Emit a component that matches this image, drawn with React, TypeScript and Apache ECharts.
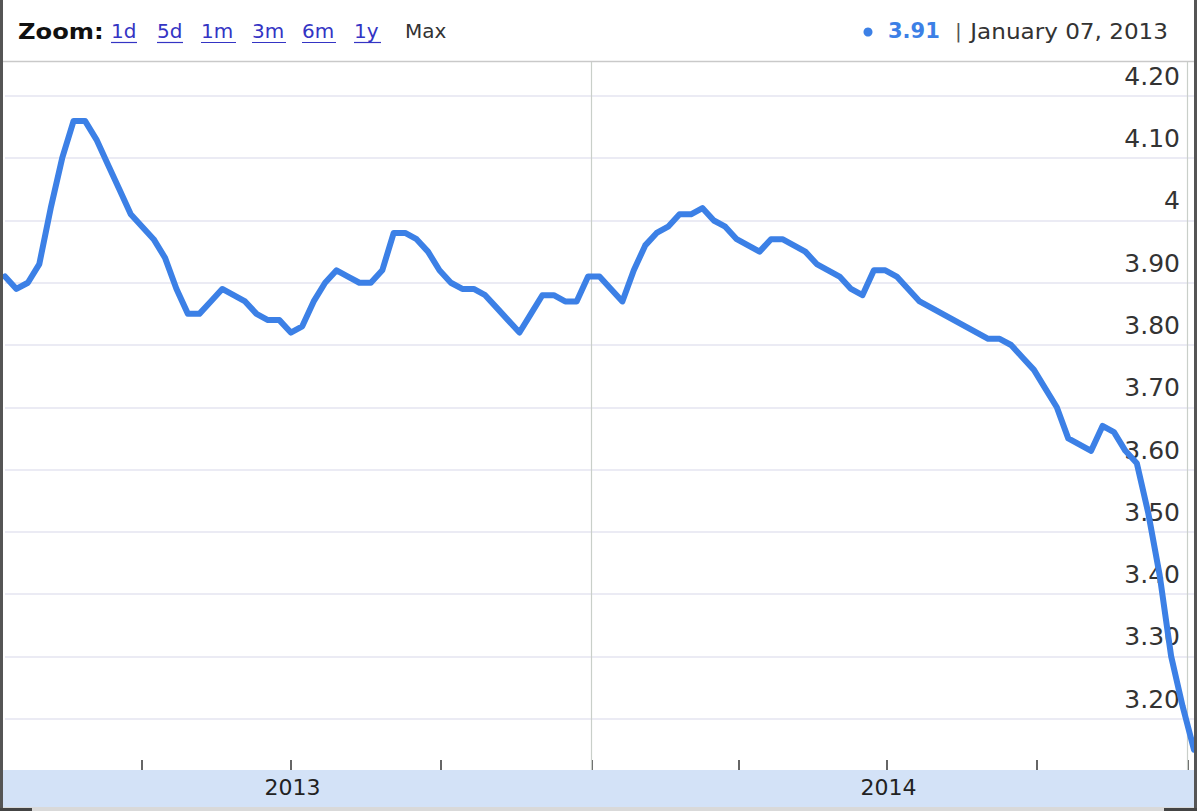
import React, { useEffect, useRef } from 'react';
import * as echarts from 'echarts';

// Weekly values, first week = Monday January 07, 2013
const startYear = 2013;
const startMonth = 0;
const startDay = 7;
const rates = [
  3.91, 3.89, 3.90, 3.93, 4.02, 4.10, 4.16, 4.16, 4.13, 4.09,
  4.05, 4.01, 3.99, 3.97, 3.94, 3.89, 3.85, 3.85, 3.87, 3.89,
  3.88, 3.87, 3.85, 3.84, 3.84, 3.82, 3.83, 3.87, 3.90, 3.92,
  3.91, 3.90, 3.90, 3.92, 3.98, 3.98, 3.97, 3.95, 3.92, 3.90,
  3.89, 3.89, 3.88, 3.86, 3.84, 3.82, 3.85, 3.88, 3.88, 3.87,
  3.87, 3.91, 3.91, 3.89, 3.87, 3.92, 3.96, 3.98, 3.99, 4.01,
  4.01, 4.02, 4.00, 3.99, 3.97, 3.96, 3.95, 3.97, 3.97, 3.96,
  3.95, 3.93, 3.92, 3.91, 3.89, 3.88, 3.92, 3.92, 3.91, 3.89,
  3.87, 3.86, 3.85, 3.84, 3.83, 3.82, 3.81, 3.81, 3.80, 3.78,
  3.76, 3.73, 3.70, 3.65, 3.64, 3.63, 3.67, 3.66, 3.63, 3.61,
  3.53, 3.43, 3.30, 3.22, 3.15,
];
const weekDates = rates.map((_, i) => new Date(startYear, startMonth, startDay + 7 * i).getTime());

const yTicks = [3.2, 3.3, 3.4, 3.5, 3.6, 3.7, 3.8, 3.9, 4.0, 4.1, 4.2];
const yTickLabels = ['3.20', '3.30', '3.40', '3.50', '3.60', '3.70', '3.80', '3.90', '4', '4.10', '4.20'];
const yMin = 3.1173;
const yMax = 4.2546;

const quarterTicks = [
  '2013-04-01', '2013-07-01', '2013-10-01', '2014-01-01',
  '2014-04-01', '2014-07-01', '2014-10-01', '2015-01-01',
];
const yearLines = ['2014-01-01', '2015-01-01'];
const yearLabelDates = ['2013-07-02', '2014-07-02'];

const zoomLinks = ['1d', '5d', '1m', '3m', '6m', '1y'];
const zoomLinkX = [111, 157, 201, 252, 302, 354];
const zoomLinkW = [26, 26, 35, 34, 34, 27];
const months = ['January', 'February', 'March', 'April', 'May', 'June', 'July', 'August', 'September', 'October', 'November', 'December'];

const ts = (s: string) => {
  const [y, m, d] = s.split('-').map(Number);
  return new Date(y, m - 1, d).getTime();
};

const FONT = 'DejaVu Sans, Verdana, sans-serif';
const LINE_BLUE = '#3c80e6';

export default function App() {
  const ref = useRef<HTMLDivElement>(null);
  useEffect(() => {
    if (!ref.current) return;
    const chart = echarts.init(ref.current, undefined, { renderer: 'svg' });
    const d0 = new Date(weekDates[0]);
    const dateText = `${months[d0.getMonth()]} ${String(d0.getDate()).padStart(2, '0')}, ${d0.getFullYear()}`;

    const graphics: any[] = [
      // header
      { type: 'text', x: 18, y: 31, scaleX: 1.1, style: { text: 'Zoom:', font: `bold 22px ${FONT}`, fill: '#111', verticalAlign: 'middle' } },
      ...zoomLinks.map((t, i) => ({
        type: 'text', x: zoomLinkX[i], y: 31,
        style: { text: t, font: `20px ${FONT}`, fill: '#3434c4', verticalAlign: 'middle' },
      })),
      ...zoomLinks.map((t, i) => ({
        type: 'line', shape: { x1: zoomLinkX[i], y1: 42.5, x2: zoomLinkX[i] + zoomLinkW[i], y2: 42.5 },
        style: { stroke: '#3434c4', lineWidth: 1.2 },
      })),
      { type: 'text', x: 405, y: 31, style: { text: 'Max', font: `20px ${FONT}`, fill: '#333', verticalAlign: 'middle' } },
      { type: 'circle', shape: { cx: 868, cy: 32, r: 4.5 }, style: { fill: LINE_BLUE } },
      { type: 'text', x: 888, y: 31, style: { text: rates[0].toFixed(2), font: `bold 21px ${FONT}`, fill: LINE_BLUE, verticalAlign: 'middle' } },
      { type: 'text', x: 955, y: 31, style: { text: '|', font: `20px ${FONT}`, fill: '#555', verticalAlign: 'middle' } },
      { type: 'text', x: 1168, y: 31, scaleX: 1.05, style: { text: dateText, font: `22px ${FONT}`, fill: '#333', align: 'right', verticalAlign: 'middle' } },
      { type: 'line', shape: { x1: 3, y1: 61.5, x2: 1194, y2: 61.5 }, style: { stroke: '#c9c9c9', lineWidth: 1.5 } },
      // bottom band
      { type: 'rect', z: -1, shape: { x: 3, y: 770, width: 1191, height: 37 }, style: { fill: '#d3e2f7' } },
      { type: 'rect', z: -1, shape: { x: 3, y: 807, width: 1191, height: 4 }, style: { fill: '#d9d9d9' } },
      // borders
      { type: 'rect', z: 10, shape: { x: 0, y: 0, width: 3, height: 811 }, style: { fill: '#555' } },
      { type: 'rect', z: 10, shape: { x: 1194, y: 0, width: 3, height: 811 }, style: { fill: '#555' } },
      { type: 'rect', z: 10, shape: { x: 0, y: 808, width: 32, height: 3 }, style: { fill: '#444' } },
      { type: 'rect', z: 10, shape: { x: 1164, y: 808, width: 33, height: 3 }, style: { fill: '#444' } },
    ];

    chart.setOption({
      animation: false,
      backgroundColor: '#ffffff',
      grid: { left: 5, right: 6, top: 62, bottom: 41, containLabel: false, outerBoundsMode: 'none' },
      xAxis: {
        type: 'value',
        min: weekDates[0],
        max: weekDates[weekDates.length - 1],
        axisLine: { show: false },
        axisTick: {
          show: true, inside: true, length: 10,
          lineStyle: { color: '#333', width: 1.5 },
          customValues: quarterTicks.map(ts),
        },
        axisLabel: {
          show: true,
          customValues: yearLabelDates.map(ts),
          formatter: (v: number) => String(new Date(v).getFullYear()),
          color: '#222', fontSize: 22, fontFamily: FONT, margin: 6,
        },
        splitLine: { show: false },
      },
      yAxis: {
        type: 'value',
        position: 'right',
        min: yMin,
        max: yMax,
        axisLine: { show: false },
        axisTick: { show: false },
        axisLabel: { show: false },
        splitLine: { show: false },
      },
      graphic: graphics,
      series: [
        {
          type: 'line',
          data: [],
          z: 1,
          silent: true,
          markLine: {
            silent: true,
            animation: false,
            symbol: ['none', 'none'],
            lineStyle: { color: '#e4e4f0', width: 1.5, type: 'solid' },
            label: {
              show: true, position: 'insideEndTop', distance: [14, 7],
              color: '#333', fontSize: 25, fontFamily: FONT,
            },
            emphasis: { disabled: true },
            data: [
              ...yTicks.map((v, i) => ({ yAxis: v, label: { formatter: yTickLabels[i] } })),
              ...yearLines.map((d) => ({
                xAxis: ts(d),
                label: { show: false },
                lineStyle: { color: '#c9cfc9', width: 1.2, type: 'solid' },
              })),
            ],
          },
        },
        {
          type: 'line',
          z: 5,
          silent: true,
          clip: true,
          symbol: 'none',
          showSymbol: false,
          data: weekDates.map((t, i) => [t, rates[i]]),
          lineStyle: { color: LINE_BLUE, width: 6, cap: 'round', join: 'round' },
        },
      ],
    });
    return () => chart.dispose();
  }, []);

  return (
    <div
      ref={ref}
      style={{ position: 'fixed', left: 0, top: 0, width: 1200, height: 811, background: '#fff' }}
    />
  );
}
